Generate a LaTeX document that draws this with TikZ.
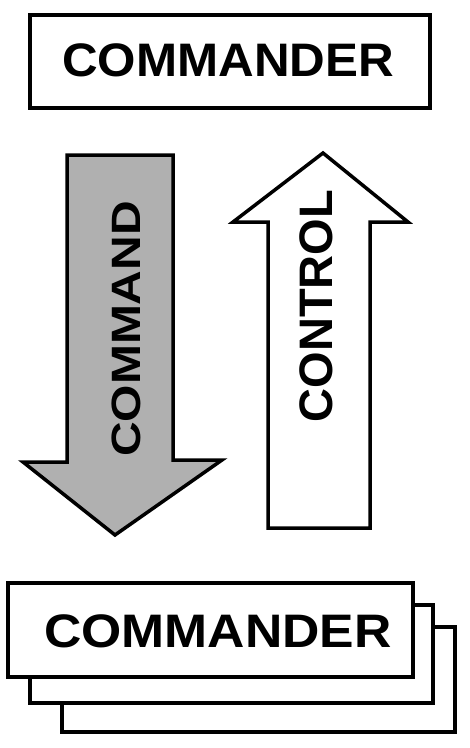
\documentclass[tikz,border=0pt]{standalone}
\usepackage{fontspec}
\setmainfont{Liberation Sans}
\usepackage{graphicx}
\begin{document}
\begin{tikzpicture}[x=1pt,y=-1pt,
  outline/.style={draw=black, line width=3.5pt, line join=miter},
  box/.style={outline, fill=white, inner sep=0pt},
  bigtext/.style={font=\bfseries\fontsize{47}{47}\selectfont, inner sep=0pt},
  vtext/.style={bigtext, rotate=90}]
\useasboundingbox[fill=white] (0,0) rectangle (470,748);

% top commander box
\node[box, minimum width=400pt, minimum height=93pt] (topbox) at (230,61.5) {};
\node[bigtext] (toptext) at (228,60) {\scalebox{1.05}[1]{COMMANDER}};

% command arrow (down, shaded)
\draw[outline, fill=gray!62] (67,155) -- (173,155) -- (173,460) -- (222,460)
  -- (115,535) -- (23,462) -- (67,462) -- cycle;
\node[vtext, font=\bfseries\fontsize{41}{41}\selectfont] (cmdtext) at (126,329) {\scalebox{1.17}[1]{COMMAND}};

% control arrow (up, white)
\draw[outline, fill=white] (268,528) -- (370,528) -- (370,222) -- (408,222)
  -- (323,153) -- (233,222) -- (268,222) -- cycle;
\node[vtext] (ctltext) at (316,306) {CONTROL};

% stacked commander boxes
\node[box, minimum width=393pt, minimum height=105pt] (box3) at (258.5,679.5) {};
\node[box, minimum width=403pt, minimum height=98pt] (box2) at (231.5,654) {};
\node[box, minimum width=405pt, minimum height=94pt] (box1) at (210.5,630) {};
\node[bigtext] (bottext) at (218,631) {\scalebox{1.1}[1]{COMMANDER}};
\end{tikzpicture}
\end{document}
